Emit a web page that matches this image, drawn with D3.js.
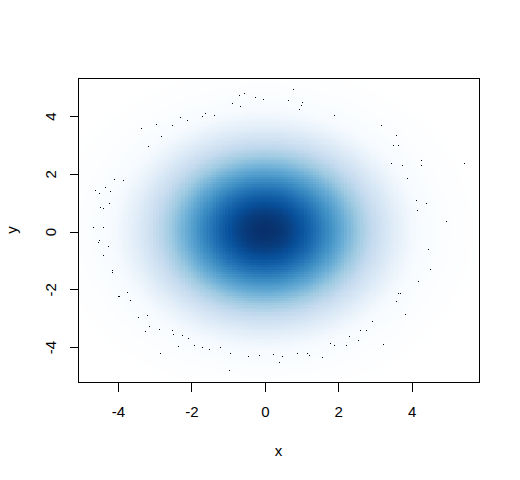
<!DOCTYPE html>
<html><head><meta charset="utf-8">
<script src="https://cdn.jsdelivr.net/npm/d3@7"></script>
<style>html,body{margin:0;padding:0;background:#fff}svg{display:block}
text{font-family:"Liberation Sans",Arial,sans-serif;fill:#000}</style></head>
<body><svg id="c" width="520" height="480"></svg>
<script>
const xTicks=[-4,-2,0,2,4];
const yTicks=[-4,-2,0,2,4];
const xDomain=[-5.09,5.83];
const yDomain=[-5.2,5.33];
const densityCenter=[0,0.1];
const densityBins=128;
const radii=[0,.25,.5,.75,1,1.25,1.5,1.75,2,2.25,2.5,2.75,3,3.25,3.5,3.75,4,4.25,4.5,4.75,5,5.5,6,9];
const levels=[1,.992,.969,.932,.882,.823,.755,.682,.607,.531,.458,.389,.325,.267,.216,.172,.135,.105,.08,.06,.044,.02,0,0];
const ramp=["#FFFFFF","#F7FBFF","#DEEBF7","#C6DBEF","#9ECAE1","#6BAED6","#4292C6","#2171B5","#08519C","#08306B"];
const pointsX=[-0.89,-0.71,-0.57,-0.67,-0.27,-0.05,-1.72,-1.63,-1.39,-2.31,-2.12,-2.52,-2.96,-3.38,-2.83,-3.19,-4.11,-3.87,-4.36,-4.63,-4.52,-4.22,-4.25,-4.50,-4.41,-4.69,-4.41,
0.76,0.63,1.01,0.98,0.93,1.88,3.16,3.57,3.49,3.62,3.43,3.73,4.25,4.25,5.42,3.87,4.12,4.39,4.14,4.93,
-4.52,-4.55,-4.28,-4.41,-4.17,-4.17,-4.00,-3.98,-3.76,-3.68,-3.46,-3.21,-3.16,-3.27,-2.89,-2.53,-2.51,-2.26,-2.10,-2.86,-2.37,-1.93,-1.72,-1.53,-1.23,-0.95,-0.98,-0.46,-0.16,
0.22,0.46,0.38,0.87,1.15,1.20,1.55,1.77,1.88,2.21,2.29,2.53,2.59,2.75,2.92,3.22,3.57,3.62,3.68,3.82,4.17,4.44,4.50];
const pointsY=[4.46,4.74,4.81,4.36,4.67,4.60,4.01,4.12,4.05,3.98,3.87,3.70,3.74,3.60,3.32,2.97,1.83,1.80,1.56,1.45,1.35,1.42,1.00,0.86,0.83,0.17,0.17,
4.95,4.57,4.50,4.39,4.26,4.05,3.70,3.36,3.01,3.01,2.39,2.32,2.49,2.32,2.39,1.87,1.11,1.00,0.76,0.38,
-0.28,-0.36,-0.49,-0.80,-1.32,-1.39,-2.22,-2.22,-2.08,-2.35,-2.94,-2.87,-3.25,-3.43,-3.36,-3.39,-3.53,-3.57,-3.67,-4.19,-3.95,-3.91,-3.98,-4.05,-4.01,-4.19,-4.78,-4.29,-4.26,
-4.22,-4.29,-4.53,-4.19,-4.19,-4.26,-4.33,-3.84,-3.91,-3.91,-3.63,-3.74,-3.39,-3.39,-3.08,-3.88,-2.39,-2.11,-2.11,-2.84,-1.70,-0.59,-1.28];

const svg=d3.select("#c");
const x=d3.scaleLinear().domain(xDomain).range([78.5,479.3]);
const y=d3.scaleLinear().domain(yDomain).range([382.3,78.3]);
const level=d3.scaleLinear().domain(radii).range(levels).clamp(true);
const color=d3.scaleLinear().domain(ramp.map((_,i)=>i/(ramp.length-1))).range(ramp).interpolate(d3.interpolateRgb);

const xb=d3.scaleBand().domain(d3.range(densityBins)).range([78.5,479.5]);
const yb=d3.scaleBand().domain(d3.range(densityBins)).range([382.5,78.5]);
const cells=d3.cross(d3.range(densityBins),d3.range(densityBins));
svg.append("g").attr("shape-rendering","crispEdges").selectAll("rect").data(cells).join("rect")
  .attr("x",d=>Math.floor(xb(d[0])))
  .attr("y",d=>Math.floor(yb(d[1])))
  .attr("width",Math.ceil(xb.bandwidth())+1)
  .attr("height",Math.ceil(yb.bandwidth())+1)
  .attr("fill",d=>{
    const dx=x.invert(xb(d[0])+xb.bandwidth()/2)-densityCenter[0];
    const dy=y.invert(yb(d[1])+yb.bandwidth()/2)-densityCenter[1];
    return color(level(Math.hypot(dx,dy)));
  });

svg.append("g").attr("shape-rendering","crispEdges").selectAll("rect").data(pointsX).join("rect")
  .attr("x",d=>Math.floor(x(d)))
  .attr("y",(d,i)=>Math.floor(y(pointsY[i])))
  .attr("width",1).attr("height",1).attr("fill","#000");

svg.append("rect").attr("x",78.5).attr("y",78.5).attr("width",401).attr("height",304)
  .attr("fill","none").attr("stroke","#000").attr("shape-rendering","crispEdges");

const ax=svg.append("g").attr("transform","translate(0,382.5)")
  .call(d3.axisBottom(x).tickValues(xTicks).tickFormat(String).tickSize(9).offset(0));
const ay=svg.append("g").attr("transform","translate(78.5,0)")
  .call(d3.axisLeft(y).tickValues(yTicks).tickFormat(String).tickSize(9).offset(0));
[ax,ay].forEach(g=>{g.select(".domain").remove();g.selectAll("line").attr("stroke","#000").attr("shape-rendering","crispEdges");g.selectAll("text").attr("font-size",15).attr("fill","#000").attr("font-family",'"Liberation Sans"');});
ax.selectAll("text").attr("y",34.5).attr("dy",0);
ay.selectAll("text").attr("text-anchor","middle").attr("dy",0).attr("x",0).attr("y",0)
  .attr("transform","translate(-22.5,0) rotate(-90)");
svg.append("text").attr("x",278.5).attr("y",456).attr("text-anchor","middle").attr("font-size",15).text("x");
svg.append("text").attr("transform","translate(17,230) rotate(-90)").attr("text-anchor","middle").attr("font-size",15).text("y");
</script></body></html>
